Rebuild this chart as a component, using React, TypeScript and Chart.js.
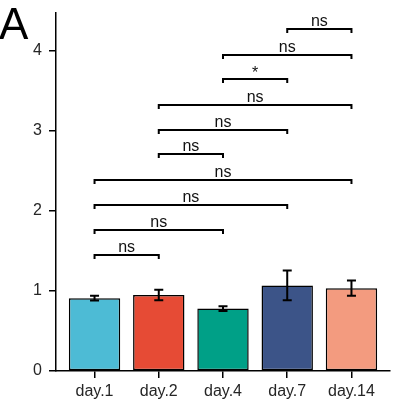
import React, { useEffect, useRef } from "react";
import { Chart, registerables } from "chart.js";

Chart.register(...registerables);

const categories = ["day.1", "day.2", "day.4", "day.7", "day.14"];
const means = [0.91, 0.95, 0.78, 1.07, 1.035];
const errors = [0.03, 0.065, 0.03, 0.185, 0.095];
const barColors = ["#4DBBD5", "#E64B35", "#00A087", "#3C5488", "#F39B7F"];
const yTicks = [0, 1, 2, 3, 4];

const compFrom = [0, 0, 0, 0, 1, 1, 1, 2, 2, 3];
const compTo = [1, 2, 3, 4, 2, 3, 4, 3, 4, 4];
const compHeight = [1.45, 1.76, 2.07, 2.39, 2.71, 3.01, 3.33, 3.65, 3.95, 4.27];
const compLabel = ["ns", "ns", "ns", "ns", "ns", "ns", "ns", "*", "ns", "ns"];

const panelLabel = "A";
const FONT = "'Liberation Sans', Arial, sans-serif";

const overlayPlugin = {
  id: "overlay",
  afterDatasetsDraw(chart: any) {
    const ctx = chart.ctx;
    const xs = chart.scales.x;
    const ys = chart.scales.y;
    ctx.save();
    // error bars
    ctx.strokeStyle = "#000";
    ctx.lineWidth = 2;
    means.forEach((m, i) => {
      const x = xs.getPixelForValue(i + 1);
      const yt = ys.getPixelForValue(m + errors[i]);
      const yb = ys.getPixelForValue(m - errors[i]);
      ctx.beginPath();
      ctx.moveTo(x, yt);
      ctx.lineTo(x, yb);
      ctx.moveTo(x - 4.5, yt);
      ctx.lineTo(x + 4.5, yt);
      ctx.moveTo(x - 4.5, yb);
      ctx.lineTo(x + 4.5, yb);
      ctx.stroke();
    });
    // brackets
    ctx.font = `16px ${FONT}`;
    ctx.fillStyle = "#111";
    ctx.textAlign = "center";
    ctx.textBaseline = "alphabetic";
    compFrom.forEach((f, k) => {
      const x1 = xs.getPixelForValue(f + 1);
      const x2 = xs.getPixelForValue(compTo[k] + 1);
      const y = Math.round(ys.getPixelForValue(compHeight[k]));
      ctx.beginPath();
      ctx.moveTo(x1, y + 4);
      ctx.lineTo(x1, y);
      ctx.lineTo(x2, y);
      ctx.lineTo(x2, y + 4);
      ctx.stroke();
      ctx.fillText(compLabel[k], (x1 + x2) / 2, y - (compLabel[k] === "*" ? 1 : 3));
    });
    // panel label
    ctx.font = `44px ${FONT}`;
    ctx.fillStyle = "#000";
    ctx.textAlign = "left";
    ctx.fillText(panelLabel, -1, 39);
    ctx.restore();
  },
};

export default function App() {
  const ref = useRef<HTMLCanvasElement | null>(null);
  useEffect(() => {
    if (!ref.current) return;
    const chart = new Chart(ref.current, {
      type: "bar",
      data: {
        datasets: [
          {
            data: means.map((m, i) => ({ x: i + 1, y: m })),
            backgroundColor: barColors,
            borderColor: "#000",
            borderWidth: 1.5,
            borderSkipped: false,
            categoryPercentage: 0.8,
            barPercentage: 1,
          },
        ],
      },
      options: {
        responsive: false,
        animation: false,
        events: [],
        layout: { padding: { top: 13, right: 4, left: 0, bottom: 0 } },
        plugins: { legend: { display: false }, tooltip: { enabled: false } },
        scales: {
          x: {
            type: "linear",
            offset: false,
            min: 0.4,
            max: 5.6,
            afterBuildTicks: (s: any) => {
              s.ticks = categories.map((_, i) => ({ value: i + 1 }));
            },
            afterFit: (s: any) => {
              s.height = 35;
              s.paddingLeft = 0;
              s.paddingRight = 0;
            },
            ticks: {
              callback: (v: any) => categories[Math.round(v) - 1] ?? "",
              color: "#262626",
              font: { family: FONT, size: 16 },
              padding: 4,
              maxRotation: 0,
              autoSkip: false,
            },
            grid: {
              offset: false,
              drawOnChartArea: false,
              tickLength: 7,
              tickColor: "#000",
              lineWidth: 1.5,
            },
            border: { display: true, color: "#000", width: 1.5 },
          },
          y: {
            min: 0,
            max: 4.475,
            afterBuildTicks: (s: any) => {
              s.ticks = yTicks.map((v) => ({ value: v }));
            },
            afterFit: (s: any) => {
              s.width = 56;
              s.paddingTop = 0;
              s.paddingBottom = 0;
            },
            ticks: {
              color: "#262626",
              font: { family: FONT, size: 16 },
              padding: 7,
            },
            grid: {
              drawOnChartArea: false,
              tickLength: 7,
              tickColor: "#000",
              lineWidth: 1.5,
            },
            border: { display: true, color: "#000", width: 1.5 },
          },
        },
      },
      plugins: [overlayPlugin],
    } as any);
    return () => chart.destroy();
  }, []);
  return (
    <div style={{ position: "fixed", left: 0, top: 0, width: 394, height: 406, background: "#fff" }}>
      <canvas ref={ref} width={394} height={406} style={{ width: 394, height: 406 }} />
    </div>
  );
}
